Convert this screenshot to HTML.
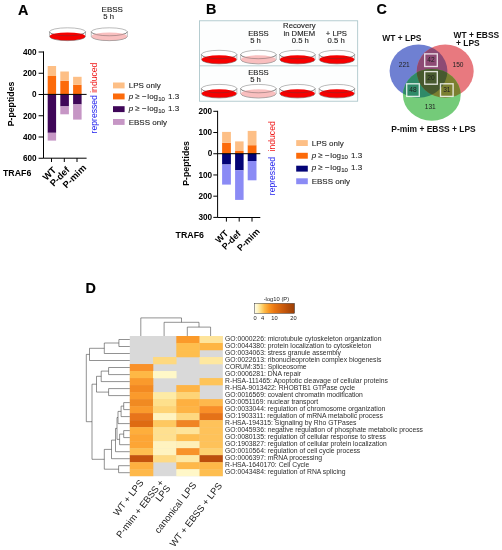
<!DOCTYPE html>
<html><head><meta charset="utf-8"><title>Figure</title>
<style>
html,body{margin:0;padding:0;background:#fff;}
svg{display:block;font-family:"Liberation Sans", Arial, sans-serif;}
.b{font-weight:bold;}
.pl{font-weight:bold;font-size:14.4px;stroke:#000;stroke-width:0.15;}
.ax{stroke:#000;stroke-width:1;fill:none;}
.tk{font-size:8.2px;font-weight:bold;fill:#000;}
.lg{font-size:8px;fill:#222;stroke:#222;stroke-width:0.1;}
.sm{font-size:7.7px;fill:#1c1c1c;stroke:#1c1c1c;stroke-width:0.12;}
.dn{stroke:#484848;stroke-width:0.6;fill:none;}
.rl{font-size:6.8px;fill:#2e2e2e;}
.cl{font-size:9.4px;fill:#1a1a1a;}
.vn{font-size:6.6px;fill:#222;text-anchor:middle;}
.vt{font-size:8.45px;font-weight:bold;fill:#111;}
</style></head><body>
<svg width="502" height="550" viewBox="0 0 502 550">
<rect width="502" height="550" fill="#fff"/>

<g id="panelA">
<text x="18.0" y="14.9" class="pl">A</text>
<text x="101.6" y="11.5" class="sm" style="font-size:8px">EBSS</text>
<text x="103.3" y="18.7" class="sm">5 h</text>
<path d="M49.5,31.79 L49.5,36.44 A18.0,4.18 0 0 0 85.5,36.44 L85.5,31.79 Z" fill="#fff" stroke="#777" stroke-width="0.5"/><ellipse cx="67.5" cy="31.79" rx="18.0" ry="3.99" fill="#fff" stroke="#777" stroke-width="0.5"/><ellipse cx="67.5" cy="36.44" rx="17.75" ry="4.04" fill="#f60000"/><path d="M49.5,31.79 A18.0,3.99 0 0 0 85.5,31.79" fill="none" stroke="#444" stroke-width="0.5" opacity="0.75"/><path d="M49.5,36.44 A18.0,4.18 0 0 0 85.5,36.44" fill="none" stroke="#555" stroke-width="0.4" opacity="0.7"/>
<path d="M91.3,31.79 L91.3,36.44 A18.0,4.18 0 0 0 127.3,36.44 L127.3,31.79 Z" fill="#fff" stroke="#777" stroke-width="0.5"/><ellipse cx="109.3" cy="31.79" rx="18.0" ry="3.99" fill="#fff" stroke="#777" stroke-width="0.5"/><ellipse cx="109.3" cy="36.44" rx="17.75" ry="4.04" fill="#f9bfbf"/><path d="M91.3,31.79 A18.0,3.99 0 0 0 127.3,31.79" fill="none" stroke="#444" stroke-width="0.5" opacity="0.75"/><path d="M91.3,36.44 A18.0,4.18 0 0 0 127.3,36.44" fill="none" stroke="#555" stroke-width="0.4" opacity="0.7"/>
<rect x="47.7" y="76.00" width="8.4" height="18.40" fill="#fc6a0a"/><rect x="47.7" y="66.00" width="8.4" height="10.00" fill="#fdbf86"/><rect x="47.7" y="94.40" width="8.4" height="38.40" fill="#3f0658"/><rect x="47.7" y="132.80" width="8.4" height="7.80" fill="#c696c5"/>
<rect x="60.3" y="80.80" width="8.6" height="13.60" fill="#fc6a0a"/><rect x="60.3" y="71.50" width="8.6" height="9.30" fill="#fdbf86"/><rect x="60.3" y="94.40" width="8.6" height="12.00" fill="#3f0658"/><rect x="60.3" y="106.40" width="8.6" height="7.90" fill="#c696c5"/>
<rect x="73.1" y="84.80" width="8.5" height="9.60" fill="#fc6a0a"/><rect x="73.1" y="76.80" width="8.5" height="8.00" fill="#fdbf86"/><rect x="73.1" y="94.40" width="8.5" height="10.00" fill="#3f0658"/><rect x="73.1" y="104.40" width="8.5" height="15.20" fill="#c696c5"/>
<path class="ax" d="M43.5,51.4 V158.2 H86.6 M43.5,94.4 H86.6" stroke-width="1.2"/>
<path class="ax" d="M38.6,52.00 H43.5"/>
<text x="36.6" y="54.90" class="tk" text-anchor="end">400</text>
<path class="ax" d="M38.6,73.25 H43.5"/>
<text x="36.6" y="76.15" class="tk" text-anchor="end">200</text>
<path class="ax" d="M38.6,94.50 H43.5"/>
<text x="36.6" y="97.40" class="tk" text-anchor="end">0</text>
<path class="ax" d="M38.6,115.75 H43.5"/>
<text x="36.6" y="118.65" class="tk" text-anchor="end">200</text>
<path class="ax" d="M38.6,137.00 H43.5"/>
<text x="36.6" y="139.90" class="tk" text-anchor="end">400</text>
<path class="ax" d="M38.6,158.25 H43.5"/>
<text x="36.6" y="161.15" class="tk" text-anchor="end">600</text>
<path class="ax" d="M51.5,158.2 V162"/>
<path class="ax" d="M64.3,158.2 V162"/>
<path class="ax" d="M77.0,158.2 V162"/>
<text transform="translate(13.6,104) rotate(-90)" class="b" font-size="8.75" text-anchor="middle">P-peptides</text>
<text transform="translate(96.8,92.8) rotate(-90)" font-size="8.6" fill="#f01818">induced</text>
<text transform="translate(96.8,133.4) rotate(-90)" font-size="8.6" fill="#2222ee">repressed</text>
<text x="3" y="175.9" class="b" font-size="8.8">TRAF6</text>
<text transform="translate(56.7,170.6) rotate(-45)" class="b" font-size="9.4" text-anchor="end">WT</text>
<text transform="translate(70.2,170.5) rotate(-45)" class="b" font-size="9.4" text-anchor="end">P-def</text>
<text transform="translate(86.8,168.4) rotate(-45)" class="b" font-size="9.4" text-anchor="end">P-mim</text>
<rect x="113" y="82.5" width="11.6" height="5.9" fill="#fdbf86"/><text x="128.7" y="88.3" class="lg">LPS only</text><rect x="113" y="93.5" width="11.6" height="5.9" fill="#fc6a0a"/><text x="128.7" y="99.1" class="lg"><tspan font-style="italic">p</tspan> ≥ −<tspan dx="0.7">log</tspan><tspan font-size="6" dy="1.5" dx="0.2">10</tspan><tspan dy="-1.5" dx="0.9"> 1.3</tspan></text><rect x="113" y="106.2" width="11.6" height="5.9" fill="#3f0658"/><text x="128.7" y="111.1" class="lg"><tspan font-style="italic">p</tspan> ≥ −<tspan dx="0.7">log</tspan><tspan font-size="6" dy="1.5" dx="0.2">10</tspan><tspan dy="-1.5" dx="0.9"> 1.3</tspan></text><rect x="113" y="119.0" width="11.6" height="5.9" fill="#c696c5"/><text x="128.7" y="124.5" class="lg">EBSS only</text>
</g>
<g id="panelB">
<text x="205.9" y="14.3" class="pl">B</text>
<rect x="199.5" y="20.8" width="158.2" height="80.4" fill="#fdfefe" stroke="#a3c0c5" stroke-width="0.8"/>
<path d="M199.5,65.8 H357.7" stroke="#a9c4c8" stroke-width="0.8"/>
<text x="248.2" y="36.4" class="sm">EBSS</text><text x="250.2" y="42.8" class="sm">5 h</text>
<text x="283.1" y="28.4" class="sm">Recovery</text><text x="283.5" y="35.6" class="sm">in DMEM</text><text x="291.8" y="42.8" class="sm">0.5 h</text>
<text x="325.8" y="35.6" class="sm">+ LPS</text><text x="327.6" y="42.8" class="sm">0.5 h</text>
<text x="248.2" y="75.3" class="sm">EBSS</text><text x="250.2" y="82.1" class="sm">5 h</text>
<path d="M201.4,54.50 L201.4,59.40 A17.7,4.40 0 0 0 236.79999999999998,59.40 L236.79999999999998,54.50 Z" fill="#fff" stroke="#777" stroke-width="0.5"/><ellipse cx="219.1" cy="54.50" rx="17.7" ry="4.20" fill="#fff" stroke="#777" stroke-width="0.5"/><ellipse cx="219.1" cy="59.40" rx="17.45" ry="4.25" fill="#f60000"/><path d="M201.4,54.50 A17.7,4.20 0 0 0 236.79999999999998,54.50" fill="none" stroke="#444" stroke-width="0.5" opacity="0.75"/><path d="M201.4,59.40 A17.7,4.40 0 0 0 236.79999999999998,59.40" fill="none" stroke="#555" stroke-width="0.4" opacity="0.7"/>
<path d="M201.4,88.60 L201.4,93.50 A17.7,4.40 0 0 0 236.79999999999998,93.50 L236.79999999999998,88.60 Z" fill="#fff" stroke="#777" stroke-width="0.5"/><ellipse cx="219.1" cy="88.60" rx="17.7" ry="4.20" fill="#fff" stroke="#777" stroke-width="0.5"/><ellipse cx="219.1" cy="93.50" rx="17.45" ry="4.25" fill="#f60000"/><path d="M201.4,88.60 A17.7,4.20 0 0 0 236.79999999999998,88.60" fill="none" stroke="#444" stroke-width="0.5" opacity="0.75"/><path d="M201.4,93.50 A17.7,4.40 0 0 0 236.79999999999998,93.50" fill="none" stroke="#555" stroke-width="0.4" opacity="0.7"/>
<path d="M240.7,54.50 L240.7,59.40 A17.7,4.40 0 0 0 276.09999999999997,59.40 L276.09999999999997,54.50 Z" fill="#fff" stroke="#777" stroke-width="0.5"/><ellipse cx="258.4" cy="54.50" rx="17.7" ry="4.20" fill="#fff" stroke="#777" stroke-width="0.5"/><ellipse cx="258.4" cy="59.40" rx="17.45" ry="4.25" fill="#f9bfbf"/><path d="M240.7,54.50 A17.7,4.20 0 0 0 276.09999999999997,54.50" fill="none" stroke="#444" stroke-width="0.5" opacity="0.75"/><path d="M240.7,59.40 A17.7,4.40 0 0 0 276.09999999999997,59.40" fill="none" stroke="#555" stroke-width="0.4" opacity="0.7"/>
<path d="M240.7,88.60 L240.7,93.50 A17.7,4.40 0 0 0 276.09999999999997,93.50 L276.09999999999997,88.60 Z" fill="#fff" stroke="#777" stroke-width="0.5"/><ellipse cx="258.4" cy="88.60" rx="17.7" ry="4.20" fill="#fff" stroke="#777" stroke-width="0.5"/><ellipse cx="258.4" cy="93.50" rx="17.45" ry="4.25" fill="#f9bfbf"/><path d="M240.7,88.60 A17.7,4.20 0 0 0 276.09999999999997,88.60" fill="none" stroke="#444" stroke-width="0.5" opacity="0.75"/><path d="M240.7,93.50 A17.7,4.40 0 0 0 276.09999999999997,93.50" fill="none" stroke="#555" stroke-width="0.4" opacity="0.7"/>
<path d="M279.7,54.50 L279.7,59.40 A17.7,4.40 0 0 0 315.09999999999997,59.40 L315.09999999999997,54.50 Z" fill="#fff" stroke="#777" stroke-width="0.5"/><ellipse cx="297.4" cy="54.50" rx="17.7" ry="4.20" fill="#fff" stroke="#777" stroke-width="0.5"/><ellipse cx="297.4" cy="59.40" rx="17.45" ry="4.25" fill="#f60000"/><path d="M279.7,54.50 A17.7,4.20 0 0 0 315.09999999999997,54.50" fill="none" stroke="#444" stroke-width="0.5" opacity="0.75"/><path d="M279.7,59.40 A17.7,4.40 0 0 0 315.09999999999997,59.40" fill="none" stroke="#555" stroke-width="0.4" opacity="0.7"/>
<path d="M279.7,88.60 L279.7,93.50 A17.7,4.40 0 0 0 315.09999999999997,93.50 L315.09999999999997,88.60 Z" fill="#fff" stroke="#777" stroke-width="0.5"/><ellipse cx="297.4" cy="88.60" rx="17.7" ry="4.20" fill="#fff" stroke="#777" stroke-width="0.5"/><ellipse cx="297.4" cy="93.50" rx="17.45" ry="4.25" fill="#f60000"/><path d="M279.7,88.60 A17.7,4.20 0 0 0 315.09999999999997,88.60" fill="none" stroke="#444" stroke-width="0.5" opacity="0.75"/><path d="M279.7,93.50 A17.7,4.40 0 0 0 315.09999999999997,93.50" fill="none" stroke="#555" stroke-width="0.4" opacity="0.7"/>
<path d="M319.2,54.50 L319.2,59.40 A17.7,4.40 0 0 0 354.59999999999997,59.40 L354.59999999999997,54.50 Z" fill="#fff" stroke="#777" stroke-width="0.5"/><ellipse cx="336.9" cy="54.50" rx="17.7" ry="4.20" fill="#fff" stroke="#777" stroke-width="0.5"/><ellipse cx="336.9" cy="59.40" rx="17.45" ry="4.25" fill="#f60000"/><path d="M319.2,54.50 A17.7,4.20 0 0 0 354.59999999999997,54.50" fill="none" stroke="#444" stroke-width="0.5" opacity="0.75"/><path d="M319.2,59.40 A17.7,4.40 0 0 0 354.59999999999997,59.40" fill="none" stroke="#555" stroke-width="0.4" opacity="0.7"/>
<path d="M319.2,88.60 L319.2,93.50 A17.7,4.40 0 0 0 354.59999999999997,93.50 L354.59999999999997,88.60 Z" fill="#fff" stroke="#777" stroke-width="0.5"/><ellipse cx="336.9" cy="88.60" rx="17.7" ry="4.20" fill="#fff" stroke="#777" stroke-width="0.5"/><ellipse cx="336.9" cy="93.50" rx="17.45" ry="4.25" fill="#f60000"/><path d="M319.2,88.60 A17.7,4.20 0 0 0 354.59999999999997,88.60" fill="none" stroke="#444" stroke-width="0.5" opacity="0.75"/><path d="M319.2,93.50 A17.7,4.40 0 0 0 354.59999999999997,93.50" fill="none" stroke="#555" stroke-width="0.4" opacity="0.7"/>
<rect x="222.1" y="142.70" width="8.8" height="11.00" fill="#fc6a0a"/><rect x="222.1" y="131.90" width="8.8" height="10.80" fill="#fdbf86"/><rect x="222.1" y="153.70" width="8.8" height="10.80" fill="#030376"/><rect x="222.1" y="164.50" width="8.8" height="20.10" fill="#8b8bf5"/>
<rect x="235.1" y="151.00" width="8.5" height="2.70" fill="#fc6a0a"/><rect x="235.1" y="141.40" width="8.5" height="9.60" fill="#fdbf86"/><rect x="235.1" y="153.70" width="8.5" height="16.60" fill="#030376"/><rect x="235.1" y="170.30" width="8.5" height="29.60" fill="#8b8bf5"/>
<rect x="247.7" y="145.20" width="8.8" height="8.50" fill="#fc6a0a"/><rect x="247.7" y="130.90" width="8.8" height="14.30" fill="#fdbf86"/><rect x="247.7" y="153.70" width="8.8" height="7.30" fill="#030376"/><rect x="247.7" y="161.00" width="8.8" height="19.30" fill="#8b8bf5"/>
<path class="ax" d="M217.6,110.8 V217.5 H260.3 M217.6,153.7 H260.3"/>
<path class="ax" d="M213.3,111.30 H217.6"/>
<text x="212.2" y="113.90" class="tk" text-anchor="end">200</text>
<path class="ax" d="M213.3,132.52 H217.6"/>
<text x="212.2" y="135.12" class="tk" text-anchor="end">100</text>
<path class="ax" d="M213.3,153.74 H217.6"/>
<text x="212.2" y="156.34" class="tk" text-anchor="end">0</text>
<path class="ax" d="M213.3,174.96 H217.6"/>
<text x="212.2" y="177.56" class="tk" text-anchor="end">100</text>
<path class="ax" d="M213.3,196.18 H217.6"/>
<text x="212.2" y="198.78" class="tk" text-anchor="end">200</text>
<path class="ax" d="M213.3,217.40 H217.6"/>
<text x="212.2" y="220.00" class="tk" text-anchor="end">300</text>
<path class="ax" d="M226.4,217.5 V221.6"/>
<path class="ax" d="M239.2,217.5 V221.6"/>
<path class="ax" d="M252.0,217.5 V221.6"/>
<text transform="translate(189.3,163.4) rotate(-90)" class="b" font-size="8.75" text-anchor="middle">P-peptides</text>
<text transform="translate(275.2,151.4) rotate(-90)" font-size="8.6" fill="#f01818">induced</text>
<text transform="translate(275.2,195.2) rotate(-90)" font-size="8.6" fill="#2222ee">repressed</text>
<text x="175.6" y="238.0" class="b" font-size="8.8">TRAF6</text>
<text transform="translate(229.0,233.9) rotate(-45)" class="b" font-size="9.0" text-anchor="end">WT</text>
<text transform="translate(241.3,234.4) rotate(-45)" class="b" font-size="9.0" text-anchor="end">P-def</text>
<text transform="translate(260.3,232.1) rotate(-45)" class="b" font-size="9.0" text-anchor="end">P-mim</text>
<rect x="296.2" y="140.1" width="11.6" height="5.9" fill="#fdbf86"/><text x="311.7" y="145.8" class="lg">LPS only</text><rect x="296.2" y="152.8" width="11.6" height="5.9" fill="#fc6a0a"/><text x="311.7" y="157.5" class="lg"><tspan font-style="italic">p</tspan> ≥ −<tspan dx="0.7">log</tspan><tspan font-size="6" dy="1.5" dx="0.2">10</tspan><tspan dy="-1.5" dx="0.9"> 1.3</tspan></text><rect x="296.2" y="165.7" width="11.6" height="5.9" fill="#030376"/><text x="311.7" y="170.1" class="lg"><tspan font-style="italic">p</tspan> ≥ −<tspan dx="0.7">log</tspan><tspan font-size="6" dy="1.5" dx="0.2">10</tspan><tspan dy="-1.5" dx="0.9"> 1.3</tspan></text><rect x="296.2" y="178.3" width="11.6" height="5.9" fill="#8b8bf5"/><text x="311.7" y="183.5" class="lg">EBSS only</text>
</g>
<g id="panelC">
<text x="376.6" y="14.4" class="pl">C</text>
<defs>
<clipPath id="cB"><ellipse cx="418.5" cy="71.1" rx="28.9" ry="26.7" /></clipPath><clipPath id="cR"><ellipse cx="445.2" cy="71.1" rx="28.5" ry="26.7" /></clipPath><clipPath id="cG"><ellipse cx="431.8" cy="94.8" rx="28.9" ry="25.9" /></clipPath>
</defs>
<ellipse cx="418.5" cy="71.1" rx="28.9" ry="26.7" fill="#6f80d2"/>
<ellipse cx="445.2" cy="71.1" rx="28.5" ry="26.7" fill="#e8797f"/>
<ellipse cx="431.8" cy="94.8" rx="28.9" ry="25.9" fill="#74cb79"/>
<g clip-path="url(#cB)"><ellipse cx="445.2" cy="71.1" rx="28.5" ry="26.7" fill='#8d4a74'/></g>
<g clip-path="url(#cB)"><ellipse cx="431.8" cy="94.8" rx="28.9" ry="25.9" fill='#2f8a68'/></g>
<g clip-path="url(#cR)"><ellipse cx="431.8" cy="94.8" rx="28.9" ry="25.9" fill='#7b7f30'/></g>
<g clip-path="url(#cB)"><g clip-path="url(#cR)"><ellipse cx="431.8" cy="94.8" rx="28.9" ry="25.9" fill='#47592f'/></g></g>
<text x="404.3" y="67.1" class="vn">221</text>
<text x="458.0" y="67.1" class="vn">150</text>
<text x="430.3" y="109.1" class="vn">131</text>
<text x="431.0" y="62.4" class="vn">42</text>
<text x="431.0" y="80.0" class="vn">20</text>
<text x="413.0" y="92.2" class="vn">48</text>
<text x="446.8" y="92.2" class="vn">31</text>
<rect x="424.7" y="53.9" width="12.6" height="12.6" fill="none" stroke="#fff" stroke-opacity="0.82" stroke-width="1.35"/>
<rect x="424.7" y="71.6" width="12.6" height="12.6" fill="none" stroke="#fff" stroke-opacity="0.82" stroke-width="1.35"/>
<rect x="406.7" y="83.8" width="12.6" height="12.6" fill="none" stroke="#fff" stroke-opacity="0.82" stroke-width="1.35"/>
<rect x="440.5" y="83.8" width="12.6" height="12.6" fill="none" stroke="#fff" stroke-opacity="0.82" stroke-width="1.35"/>
<text x="382.3" y="40.6" class="vt">WT + LPS</text>
<text x="453.5" y="38.0" class="vt">WT + EBSS</text>
<text x="456.0" y="46.4" class="vt">+ LPS</text>
<text x="391.3" y="131.9" class="vt">P-mim + EBSS + LPS</text>
</g>
<g id="panelD">
<text x="85.5" y="293.4" class="pl">D</text>
<rect x="129.8" y="336.0" width="93.0" height="140.2" fill="#d9d9d9"/>
<rect x="176.30" y="336.00" width="23.50" height="7.26" fill="#FB9A2A"/>
<rect x="199.55" y="336.00" width="23.25" height="7.26" fill="#FEE49B"/>
<rect x="176.30" y="343.01" width="23.50" height="7.26" fill="#FEBE4E"/>
<rect x="199.55" y="343.01" width="23.25" height="7.26" fill="#FEB543"/>
<rect x="176.30" y="350.02" width="23.50" height="7.26" fill="#FEBE4E"/>
<rect x="153.05" y="357.03" width="23.50" height="7.26" fill="#FED980"/>
<rect x="199.55" y="357.03" width="23.25" height="7.26" fill="#FEE8A0"/>
<rect x="129.80" y="364.04" width="23.50" height="7.26" fill="#F9912A"/>
<rect x="129.80" y="371.05" width="23.50" height="7.26" fill="#FEB845"/>
<rect x="153.05" y="371.05" width="23.50" height="7.26" fill="#FFF8C8"/>
<rect x="129.80" y="378.06" width="23.50" height="7.26" fill="#FA9A2C"/>
<rect x="199.55" y="378.06" width="23.25" height="7.26" fill="#FEC458"/>
<rect x="129.80" y="385.07" width="23.50" height="7.26" fill="#F38A22"/>
<rect x="176.30" y="385.07" width="23.50" height="7.26" fill="#FEB445"/>
<rect x="129.80" y="392.08" width="23.50" height="7.26" fill="#FA9A2C"/>
<rect x="153.05" y="392.08" width="23.50" height="7.26" fill="#FEEBA5"/>
<rect x="176.30" y="392.08" width="23.50" height="7.26" fill="#FED476"/>
<rect x="129.80" y="399.09" width="23.50" height="7.26" fill="#F08A22"/>
<rect x="153.05" y="399.09" width="23.50" height="7.26" fill="#FEE08C"/>
<rect x="176.30" y="399.09" width="23.50" height="7.26" fill="#FEB040"/>
<rect x="199.55" y="399.09" width="23.25" height="7.26" fill="#FEB84C"/>
<rect x="129.80" y="406.10" width="23.50" height="7.26" fill="#FA9A2C"/>
<rect x="153.05" y="406.10" width="23.50" height="7.26" fill="#FED476"/>
<rect x="176.30" y="406.10" width="23.50" height="7.26" fill="#FEB445"/>
<rect x="199.55" y="406.10" width="23.25" height="7.26" fill="#F98F28"/>
<rect x="129.80" y="413.11" width="23.50" height="7.26" fill="#E8741A"/>
<rect x="153.05" y="413.11" width="23.50" height="7.26" fill="#FFF3C0"/>
<rect x="176.30" y="413.11" width="23.50" height="7.26" fill="#FED880"/>
<rect x="199.55" y="413.11" width="23.25" height="7.26" fill="#E57218"/>
<rect x="129.80" y="420.12" width="23.50" height="7.26" fill="#DE6A12"/>
<rect x="153.05" y="420.12" width="23.50" height="7.26" fill="#FEC860"/>
<rect x="176.30" y="420.12" width="23.50" height="7.26" fill="#F08424"/>
<rect x="199.55" y="420.12" width="23.25" height="7.26" fill="#FEC25A"/>
<rect x="129.80" y="427.13" width="23.50" height="7.26" fill="#FEAE3C"/>
<rect x="153.05" y="427.13" width="23.50" height="7.26" fill="#FEE090"/>
<rect x="176.30" y="427.13" width="23.50" height="7.26" fill="#FEE49A"/>
<rect x="199.55" y="427.13" width="23.25" height="7.26" fill="#FEC25A"/>
<rect x="129.80" y="434.14" width="23.50" height="7.26" fill="#FDA535"/>
<rect x="153.05" y="434.14" width="23.50" height="7.26" fill="#FEE090"/>
<rect x="176.30" y="434.14" width="23.50" height="7.26" fill="#FEBE50"/>
<rect x="199.55" y="434.14" width="23.25" height="7.26" fill="#FEC25A"/>
<rect x="129.80" y="441.15" width="23.50" height="7.26" fill="#FDA535"/>
<rect x="153.05" y="441.15" width="23.50" height="7.26" fill="#FFF3C0"/>
<rect x="176.30" y="441.15" width="23.50" height="7.26" fill="#FFF0B8"/>
<rect x="199.55" y="441.15" width="23.25" height="7.26" fill="#FEC25A"/>
<rect x="129.80" y="448.16" width="23.50" height="7.26" fill="#FEBE50"/>
<rect x="153.05" y="448.16" width="23.50" height="7.26" fill="#FFF3C0"/>
<rect x="176.30" y="448.16" width="23.50" height="7.26" fill="#F8922A"/>
<rect x="199.55" y="448.16" width="23.25" height="7.26" fill="#FED070"/>
<rect x="129.80" y="455.17" width="23.50" height="7.26" fill="#C4540E"/>
<rect x="153.05" y="455.17" width="23.50" height="7.26" fill="#FEDA84"/>
<rect x="176.30" y="455.17" width="23.50" height="7.26" fill="#FEE8A4"/>
<rect x="199.55" y="455.17" width="23.25" height="7.26" fill="#BC4E0C"/>
<rect x="129.80" y="462.18" width="23.50" height="7.26" fill="#FEB040"/>
<rect x="176.30" y="462.18" width="23.50" height="7.26" fill="#FEB84A"/>
<rect x="199.55" y="462.18" width="23.25" height="7.26" fill="#FEB848"/>
<rect x="129.80" y="469.19" width="23.50" height="7.01" fill="#FEB84A"/>
<rect x="176.30" y="469.19" width="23.50" height="7.01" fill="#FFF7C8"/>
<rect x="199.55" y="469.19" width="23.25" height="7.01" fill="#FEBE50"/>
<text x="225" y="340.86" class="rl">GO:0000226: microtubule cytoskeleton organization</text>
<text x="225" y="347.87" class="rl">GO:0044380: protein localization to cytoskeleton</text>
<text x="225" y="354.88" class="rl">GO:0034063: stress granule assembly</text>
<text x="225" y="361.89" class="rl">GO:0022613: ribonucleoprotein complex biogenesis</text>
<text x="225" y="368.90" class="rl">CORUM:351: Spliceosome</text>
<text x="225" y="375.91" class="rl">GO:0006281: DNA repair</text>
<text x="225" y="382.92" class="rl">R-HSA-111465: Apoptotic cleavage of cellular proteins</text>
<text x="225" y="389.93" class="rl">R-HSA-9013422: RHOBTB1 GTPase cycle</text>
<text x="225" y="396.94" class="rl">GO:0016569: covalent chromatin modification</text>
<text x="225" y="403.95" class="rl">GO:0051169: nuclear transport</text>
<text x="225" y="410.96" class="rl">GO:0033044: regulation of chromosome organization</text>
<text x="225" y="417.97" class="rl">GO:1903311: regulation of mRNA metabolic process</text>
<text x="225" y="424.98" class="rl">R-HSA-194315: Signaling by Rho GTPases</text>
<text x="225" y="431.99" class="rl">GO:0045936: negative regulation of phosphate metabolic process</text>
<text x="225" y="439.00" class="rl">GO:0080135: regulation of cellular response to stress</text>
<text x="225" y="446.00" class="rl">GO:1903827: regulation of cellular protein localization</text>
<text x="225" y="453.01" class="rl">GO:0010564: regulation of cell cycle process</text>
<text x="225" y="460.03" class="rl">GO:0006397: mRNA processing</text>
<text x="225" y="467.04" class="rl">R-HSA-1640170: Cell Cycle</text>
<text x="225" y="474.05" class="rl">GO:0043484: regulation of RNA splicing</text>
<path class="dn" d="M129.8,339.5 H118.9 V346.5 H129.8 M118.9,343.0 H104.3 V353.5 H129.8 M104.3,348.3 H89.5 V360.5 H129.8 M129.8,367.5 H108.6 V374.6 H129.8 M108.6,371.1 H101.2 V381.6 H129.8 M129.8,388.6 H108.6 V395.6 H129.8 M101.2,376.3 H96.5 V392.1 H108.6 M129.8,402.6 H123.7 V409.6 H129.8 M123.7,406.1 H121.1 V416.6 H129.8 M121.1,411.4 H118.0 V423.6 H129.8 M129.8,430.6 H123.7 V437.6 H129.8 M123.7,434.1 H119.6 V444.7 H129.8 M118.0,417.5 H117.0 V439.4 H119.6 M117.0,428.4 H115.5 V451.7 H129.8 M115.5,440.1 H111.5 V458.7 H129.8 M129.8,465.7 H118.6 V472.7 H129.8 M111.5,449.4 H104.3 V469.2 H118.6 M96.5,384.2 H92.0 V459.3 H104.3 M89.5,354.4 H86.3 V421.7 H92.0"/>
<path class="dn" d="M187.3,336.0 V327.1 H210.6 V336.0 M199.0,327.1 V322.3 H164.1 V336.0 M181.5,322.3 V317.9 H140.8 V336.0"/>
<defs><linearGradient id="cb" x1="0" x2="1" y1="0" y2="0"><stop offset="0" stop-color="#fffde8"/><stop offset="0.08" stop-color="#fff3c0"/><stop offset="0.16" stop-color="#fedc80"/><stop offset="0.25" stop-color="#fdb845"/><stop offset="0.38" stop-color="#f7901e"/><stop offset="0.5" stop-color="#e87511"/><stop offset="0.75" stop-color="#c4560c"/><stop offset="1" stop-color="#9a3e05"/></linearGradient></defs>
<rect x="254.6" y="303.4" width="39.9" height="9.9" fill="url(#cb)" stroke="#222" stroke-width="0.45"/>
<text x="276.4" y="300.8" font-size="5.8" text-anchor="middle" fill="#222">-log10 (P)</text>
<text x="255.1" y="320.0" font-size="5.7" text-anchor="middle" fill="#222">0</text>
<text x="262.6" y="320.0" font-size="5.7" text-anchor="middle" fill="#222">4</text>
<text x="274.5" y="320.0" font-size="5.7" text-anchor="middle" fill="#222">10</text>
<text x="293.4" y="320.0" font-size="5.7" text-anchor="middle" fill="#222">20</text>
<text transform="translate(144.0,482.8) rotate(-52)" class="cl" text-anchor="end">WT + LPS</text>
<text transform="translate(164.4,482.6) rotate(-52)" class="cl" text-anchor="end">P-mim + EBSS +</text>
<text transform="translate(170.8,488.4) rotate(-52)" class="cl" text-anchor="end">LPS</text>
<text transform="translate(196.8,485.4) rotate(-52)" class="cl" text-anchor="end" style="word-spacing:1.6px">canonical LPS</text>
<text transform="translate(222.5,485.7) rotate(-52)" class="cl" text-anchor="end">WT + EBSS + LPS</text>
</g>
</svg></body></html>
